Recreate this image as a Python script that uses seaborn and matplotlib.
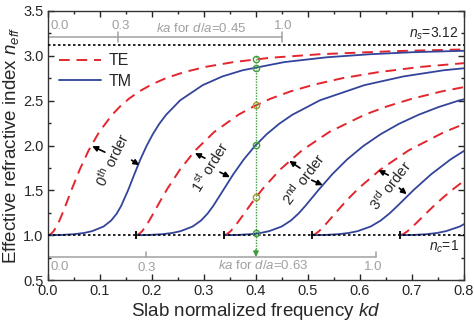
import matplotlib
matplotlib.use("Agg")
import matplotlib.pyplot as plt
from matplotlib.ticker import MultipleLocator, FormatStrFormatter
import numpy as np
import pandas as pd
import seaborn as sns

# ---------------- data ----------------
te0_kd = [0, 0.0054, 0.0108, 0.0163, 0.0220, 0.0278, 0.0338, 0.0401, 0.0468, 0.0614, 0.0783, 0.0986,
          0.1237, 0.1387, 0.1559, 0.1759, 0.1993, 0.2273, 0.2612, 0.3032, 0.3567, 0.4270, 0.5234,
          0.6639, 0.7838, 0.8326]
te0_n = [1.000, 1.011, 1.043, 1.093, 1.160, 1.239, 1.328, 1.424, 1.525, 1.734, 1.945, 2.151,
         2.344, 2.435, 2.522, 2.604, 2.680, 2.752, 2.817, 2.877, 2.930, 2.978, 3.018,
         3.052, 3.069, 3.074]
te1_kd = [0.1692, 0.1748, 0.1809, 0.1874, 0.1946, 0.2024, 0.2109, 0.2202, 0.2305, 0.2542, 0.2833,
          0.3198, 0.3665, 0.3951, 0.4281, 0.4668, 0.5125, 0.5673, 0.6342, 0.7174, 0.8236]
te1_n = [1.000, 1.011, 1.043, 1.093, 1.160, 1.239, 1.328, 1.424, 1.525, 1.734, 1.945,
         2.151, 2.344, 2.435, 2.522, 2.604, 2.680, 2.752, 2.817, 2.877, 2.930]
te2_kd = [0.3384, 0.3442, 0.3509, 0.3585, 0.3672, 0.3770, 0.3880, 0.4003, 0.4141, 0.4469, 0.4883,
          0.5410, 0.6093, 0.6514, 0.7003, 0.7576, 0.8256]
te2_n = [1.000, 1.011, 1.043, 1.093, 1.160, 1.239, 1.328, 1.424, 1.525, 1.734, 1.945,
         2.151, 2.344, 2.435, 2.522, 2.604, 2.680]
te3_kd = [0.5075, 0.5136, 0.5209, 0.5296, 0.5398, 0.5516, 0.5651, 0.5804, 0.5978, 0.6397, 0.6933,
          0.7622, 0.8041]
te3_n = [1.000, 1.011, 1.043, 1.093, 1.160, 1.239, 1.328, 1.424, 1.525, 1.734, 1.945, 2.151, 2.249]
te4_kd = [0.6767, 0.6830, 0.6910, 0.7008, 0.7125, 0.7262, 0.7422, 0.7605, 0.7815, 0.8054]
te4_n = [1.000, 1.011, 1.043, 1.093, 1.160, 1.239, 1.328, 1.424, 1.525, 1.629]

tm0_kd = [0, 0.0264, 0.0500, 0.0695, 0.0850, 0.1071, 0.1217, 0.1324, 0.1408, 0.1544, 0.1663, 0.1778,
          0.1896, 0.2017, 0.2142, 0.2272, 0.2543, 0.2976, 0.3354, 0.3743, 0.4544, 0.5365, 0.6199,
          0.7041, 0.8740]
tm0_n = [1.000, 1.003, 1.011, 1.025, 1.045, 1.097, 1.164, 1.241, 1.326, 1.504, 1.680, 1.845,
         1.994, 2.126, 2.242, 2.342, 2.504, 2.673, 2.770, 2.839, 2.930, 2.984, 3.018,
         3.041, 3.068]
tm1_kd = [0.1692, 0.1956, 0.2194, 0.2392, 0.2551, 0.2783, 0.2945, 0.3070, 0.3178, 0.3373, 0.3565,
          0.3766, 0.3979, 0.4206, 0.4446, 0.4697, 0.5229, 0.6084, 0.6834, 0.7609, 0.9207]
tm1_n = [1.000, 1.003, 1.011, 1.025, 1.045, 1.097, 1.164, 1.241, 1.326, 1.504, 1.680,
         1.845, 1.994, 2.126, 2.242, 2.342, 2.504, 2.673, 2.770, 2.839, 2.930]
tm2_kd = [0.3384, 0.3649, 0.3888, 0.4089, 0.4252, 0.4495, 0.4672, 0.4817, 0.4948, 0.5202, 0.5467,
          0.5753, 0.6063, 0.6396, 0.6750, 0.7122, 0.7511, 0.7914, 0.9192]
tm2_n = [1.000, 1.003, 1.011, 1.025, 1.045, 1.097, 1.164, 1.241, 1.326, 1.504, 1.680,
         1.845, 1.994, 2.126, 2.242, 2.342, 2.429, 2.504, 2.673]
tm3_kd = [0.5075, 0.5341, 0.5582, 0.5786, 0.5953, 0.6206, 0.6399, 0.6564, 0.6719, 0.7031, 0.7369,
          0.7741, 0.8147]
tm3_n = [1.000, 1.003, 1.011, 1.025, 1.045, 1.097, 1.164, 1.241, 1.326, 1.504, 1.680, 1.845, 1.994]
tm4_kd = [0.6767, 0.7033, 0.7276, 0.7483, 0.7653, 0.7918, 0.8126]
tm4_n = [1.000, 1.003, 1.011, 1.025, 1.045, 1.097, 1.164]

n_s = 3.12
n_c = 1.0
cutoff_kd = [0.169, 0.338, 0.508, 0.677]
probe_kd = 0.4
circle_n = [2.960, 2.868, 2.448, 2.006, 1.422, 1.019]
circle_pol = ["TE", "TM", "TE", "TM", "TE", "TM"]
ka_ticks = [0.0, 0.3, 1.0]
ka_labels = ["0.0", "0.3", "1.0"]
da_top = 0.45
da_bottom = 0.63
order_labels = ["0$^{\\mathrm{th}}$ order", "1$^{\\mathrm{st}}$ order",
                "2$^{\\mathrm{nd}}$ order", "3$^{\\mathrm{rd}}$ order"]

# ---------------- styling ----------------
sns.set_style("ticks")
plt.rcParams["font.family"] = ["Liberation Sans", "DejaVu Sans"]
plt.rcParams["mathtext.fontset"] = "custom"
plt.rcParams["mathtext.rm"] = "Liberation Sans"
plt.rcParams["mathtext.it"] = "Liberation Sans:italic"
plt.rcParams["mathtext.bf"] = "Liberation Sans:bold"

RED = "#e3262d"
BLUE = "#33449a"
GREEN = "#3f9b3f"
OLIVE = "#a9952f"
GRAY = "#a0a0a0"

fig, ax = plt.subplots(figsize=(4.74, 3.23), dpi=100)
fig.subplots_adjust(left=0.101, right=0.979, bottom=0.133, top=0.966)

rows = []
te = [(te0_kd, te0_n), (te1_kd, te1_n), (te2_kd, te2_n), (te3_kd, te3_n), (te4_kd, te4_n)]
tm = [(tm0_kd, tm0_n), (tm1_kd, tm1_n), (tm2_kd, tm2_n), (tm3_kd, tm3_n), (tm4_kd, tm4_n)]
for pol, curves in (("TE", te), ("TM", tm)):
    for m, (k, n) in enumerate(curves):
        for a, b in zip(k, n):
            rows.append({"pol": pol, "order": m, "kd": a, "n": b})
df = pd.DataFrame(rows)

for (pol, m), sub in df.groupby(["pol", "order"], sort=False):
    if pol == "TE":
        sns.lineplot(data=sub, x="kd", y="n", ax=ax, color=RED, lw=1.4, sort=False,
                     estimator=None, linestyle=(0, (5.5, 3.5)), label="TE" if m == 0 else None,
                     legend=False, zorder=3)
    else:
        sns.lineplot(data=sub, x="kd", y="n", ax=ax, color=BLUE, lw=1.3, sort=False,
                     estimator=None, label="TM" if m == 0 else None, legend=False, zorder=3)

# reference index lines
ax.axhline(n_s, color="black", lw=1.2, ls=(0, (1.5, 1.5)), zorder=4)
ax.axhline(n_c, color="black", lw=1.2, ls=(0, (1.5, 1.5)), zorder=4)
ax.plot(cutoff_kd, [n_c] * len(cutoff_kd), ls="none", marker="|", ms=6, mew=1.3,
        color="black", zorder=5)

# probe line and circles
ax.plot([probe_kd, probe_kd], [3.0, 0.80], color=GREEN, lw=1.0, ls=(0, (1, 1)), zorder=5)
ax.annotate("", xy=(probe_kd, 0.757), xytext=(probe_kd, 0.84),
            arrowprops=dict(arrowstyle="-|>", color=GREEN, lw=1.0, mutation_scale=8,
                            shrinkA=0, shrinkB=0), zorder=6)
for cn, cp in zip(circle_n, circle_pol):
    ax.plot([probe_kd], [cn], ls="none", marker="o", ms=4.5, mfc="none",
            mec=OLIVE if (cp == "TE" and cn < 2.9) else GREEN, mew=1.0, zorder=6)

# secondary ka axes
y_top, y_bot = 3.213, 0.755
ax.plot([0, ka_ticks[-1] * da_top], [y_top, y_top], color=GRAY, lw=1.1, zorder=2)
ax.plot([0, ka_ticks[-1] * da_bottom], [y_bot, y_bot], color=GRAY, lw=1.1, zorder=2)
for ka in ka_ticks[1:]:
    ax.plot([ka * da_top] * 2, [y_top - 0.055, y_top + 0.05], color=GRAY, lw=1.1, zorder=2)
    ax.plot([ka * da_bottom] * 2, [y_bot, y_bot + 0.06], color=GRAY, lw=1.1, zorder=2)
lab_kw = dict(color=GRAY, fontsize=9.5, ha="center", va="center")
ax.text(0.006, 3.33, ka_labels[0], **{**lab_kw, "ha": "left"})
ax.text(ka_ticks[1] * da_top + 0.005, 3.33, ka_labels[1], **lab_kw)
ax.text(ka_ticks[2] * da_top + 0.003, 3.33, ka_labels[2], **lab_kw)
ax.text(0.295, 3.31, "$ka$ for $d/a$=0.45", **lab_kw)
ax.text(0.006, 0.645, ka_labels[0], **{**lab_kw, "ha": "left"})
ax.text(ka_ticks[1] * da_bottom + 0.001, 0.635, ka_labels[1], **lab_kw)
ax.text(ka_ticks[2] * da_bottom - 0.005, 0.64, ka_labels[2], **lab_kw)
ax.text(0.414, 0.66, "$ka$ for $d/a$=0.63", **lab_kw)

# index labels
ax.text(0.79, 3.245, "$n_s$=3.12", fontsize=10, ha="right", va="center")
ax.text(0.79, 0.875, "$n_c$=1", fontsize=10, ha="right", va="center")

# order labels with arrows
text_pos = [(0.123, 1.837, 64), (0.3125, 1.765, 58), (0.491, 1.625, 53), (0.658, 1.558, 52)]
arrows = [((0.1096, 1.926), (0.0852, 1.993), (0.1610, 1.837), (0.1756, 1.781)),
          ((0.3019, 1.859), (0.2827, 1.915), (0.3308, 1.703), (0.3500, 1.647)),
          ((0.4846, 1.748), (0.4640, 1.829), (0.5071, 1.614), (0.5283, 1.558)),
          ((0.6544, 1.670), (0.6352, 1.7255), (0.6756, 1.525), (0.6898, 1.458))]
for lab, (x, y, rot), (t1, h1, t2, h2) in zip(order_labels, text_pos, arrows):
    ax.text(x, y, lab, rotation=rot, rotation_mode="anchor", ha="center", va="center",
            fontsize=10.5, zorder=7)
    for tail, head in ((t1, h1), (t2, h2)):
        ax.annotate("", xy=head, xytext=tail,
                    arrowprops=dict(arrowstyle="-|>", color="black", lw=1.2, mutation_scale=8,
                                    shrinkA=0, shrinkB=0), zorder=7)

# axes
ax.set_xlim(0, 0.8)
ax.set_ylim(0.5, 3.5)
ax.xaxis.set_major_locator(MultipleLocator(0.1))
ax.xaxis.set_minor_locator(MultipleLocator(0.05))
ax.yaxis.set_major_locator(MultipleLocator(0.5))
ax.yaxis.set_minor_locator(MultipleLocator(0.25))
ax.xaxis.set_major_formatter(FormatStrFormatter("%.1f"))
ax.yaxis.set_major_formatter(FormatStrFormatter("%.1f"))
ax.tick_params(which="both", direction="in", top=True, right=True, labelsize=10.5, width=1.0)
ax.tick_params(which="major", length=4.5, pad=3)
ax.tick_params(which="minor", length=2.5)
for sp in ax.spines.values():
    sp.set_linewidth(1.0)
    sp.set_color("#333333")
ax.set_xlabel("Slab normalized frequency $kd$", fontsize=13.5, labelpad=2)
ax.set_ylabel("Effective refractive index $n_{eff}$", fontsize=13.5, labelpad=2)

handles, labels = ax.get_legend_handles_labels()
ax.legend(handles, labels, loc="upper left", bbox_to_anchor=(0.0, 0.885), frameon=False,
          fontsize=11.5, handlelength=2.6, handletextpad=0.5, labelspacing=0.35,
          borderaxespad=0.3)

fig.savefig("out.png", dpi=100)
